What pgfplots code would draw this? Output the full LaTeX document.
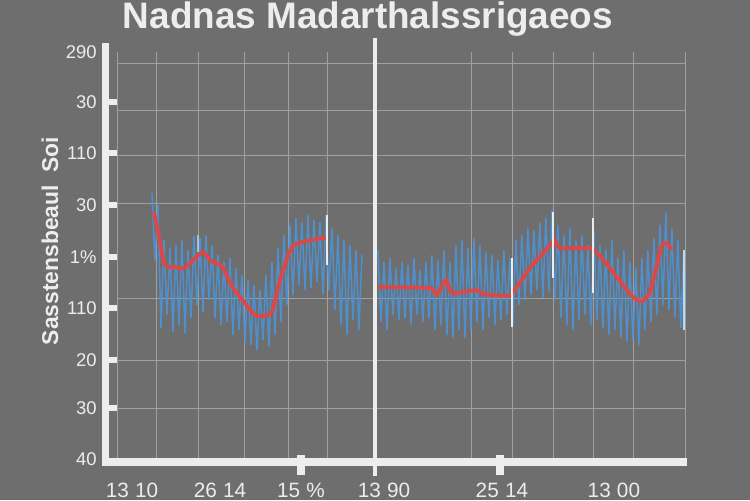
\documentclass[border=0pt]{standalone}
\usepackage{fontspec}
\setmainfont{Liberation Sans}
\usepackage{pgfplots}
\pgfplotsset{compat=1.18}
\definecolor{bg}{HTML}{6E6E6E}
\definecolor{gridc}{HTML}{A0A0A0}
\definecolor{wht}{HTML}{EDEDED}
\definecolor{sig}{HTML}{4A94DA}
\definecolor{trend}{HTML}{DC4848}
\definecolor{pale}{HTML}{B4DCF4}

\begin{document}
\begin{tikzpicture}[x=0.02cm,y=0.02cm]
\useasboundingbox (0,0) rectangle (750,500);
\clip (0,0) rectangle (750,500);
\fill[bg] (0,0) rectangle (750,500);
% grid (pixel units, y measured upwards)
\foreach \gx in {117,156,198,244,288,327,471,512,553,593,633,685}
  \draw[gridc, line width=0.55pt] (\gx,37) -- (\gx,448);
\foreach \gy in {437,390,345,297,202,140,92}
  \draw[gridc, line width=0.55pt] (117,\gy) -- (685,\gy);
\node[wht, font=\bfseries\fontsize{21}{23}\selectfont, anchor=base] at (368,471) {Nadnas Madarthalssrigaeos};
\node[wht, font=\bfseries\fontsize{13}{15}\selectfont, rotate=90] at (50,259) {Sasstensbeaul\ \ Soi};

\begin{axis}[
    at={(105,37)}, anchor=south west, scale only axis,
    width=11.66cm, height=8.4cm,
    xmin=105, xmax=688, ymin=37, ymax=457,
    axis line style={draw=none},
    major tick length=0pt,
    clip=false,
    /pgf/number format/assume math mode=true,
    xtick={132,220,301,384,502,614},
    xticklabels={13\hspace{0.3em}10, 26\hspace{0.3em}14, 15\hspace{0.3em}\%, 13\hspace{0.3em}90, 25\hspace{0.3em}14, 13\hspace{0.3em}00},
    ytick={447.5,398,347,295,243,192,140,92,41},
    yticklabels={290,30,110,30,1\%,110,20,30,40},
    xticklabel style={font=\fontsize{11.8}{13}\selectfont, text=wht, inner sep=0pt, anchor=north, yshift=-0.4cm},
    yticklabel style={font=\fontsize{10.5}{12}\selectfont, text=wht, inner sep=0pt, anchor=east, xshift=-0.16cm},
  ]
  % noisy signal, left part
  \addplot[sig, line width=0.85pt, opacity=0.9] coordinates {
      (152,307) (155,240) (158,295) (161,172) (164,260) (167,185) (170,252) (173,168)
      (176,255) (179,175) (182,260) (185,167) (188,250) (191,182) (194,264) (197,195)
      (200,262) (203,188) (206,265) (209,200) (212,255) (215,182) (218,245) (221,175)
      (224,238) (227,178) (230,242) (233,165) (236,232) (239,170) (242,225) (245,158)
      (248,220) (251,155) (254,215) (257,150) (260,210) (263,160) (266,225) (269,153)
      (272,238) (275,165) (278,252) (281,178) (284,265) (287,195) (290,275) (293,205)
      (296,282) (299,215) (302,278) (305,210) (308,285) (311,212) (314,280) (317,218)
      (320,278) (323,205) (326,285) (329,210) (332,272) (335,190) (338,265) (341,175)
      (344,260) (347,165) (350,255) (353,180) (356,250) (359,170) (362,245)
    };
  % noisy signal, right part
  \addplot[sig, line width=0.85pt, opacity=0.9] coordinates {
      (378,250) (381,178) (384,238) (387,170) (390,242) (393,185) (396,232) (399,180)
      (402,238) (405,182) (408,235) (411,175) (414,242) (417,185) (420,230) (423,178)
      (426,238) (429,182) (432,245) (435,170) (438,240) (441,175) (444,250) (447,165)
      (450,238) (453,162) (456,255) (459,170) (462,260) (465,162) (468,252) (471,170)
      (474,262) (477,178) (480,255) (483,170) (486,248) (489,182) (492,245) (495,175)
      (498,240) (501,180) (504,250) (507,185) (510,242) (513,175) (516,260) (519,195)
      (522,265) (525,200) (528,272) (531,205) (534,270) (537,210) (540,278) (543,202)
      (546,282) (549,208) (552,290) (555,200) (558,275) (561,182) (564,265) (567,175)
      (570,272) (573,170) (576,260) (579,180) (582,265) (585,185) (588,255) (591,175)
      (594,270) (597,180) (600,255) (603,172) (606,250) (609,165) (612,260) (615,170)
      (618,242) (621,162) (624,250) (627,158) (630,238) (633,160) (636,232) (639,155)
      (642,242) (645,170) (648,250) (651,178) (654,262) (657,185) (660,275) (663,195)
      (666,288) (669,190) (672,272) (675,182) (678,260) (681,172) (684,250)
    };
  % trend, left part
  \addplot[trend, line width=2.2pt, smooth, tension=0.4] coordinates {
      (154,288) (160,258) (165,235) (175,233) (185,232) (195,242) (203,248)
      (210,240) (215,237) (222,234) (232,214) (244,198) (255,185) (262,184)
      (272,188) (280,220) (292,253) (307,259) (317,261) (327,263)
    };
  % trend, right part
  \addplot[trend, line width=2.2pt, smooth, tension=0.3] coordinates {
      (378,213) (430,212) (437,205) (446,220) (452,207) (477,210) (483,206)
      (510,205) (530,232) (552,257) (555,260) (560,252) (593,251) (613,228)
      (633,203) (642,199) (650,207) (657,235) (662,255) (667,257) (672,250)
    };
\end{axis}

% spines, ticks and highlight bars
\draw[wht, line width=4.3pt] (105.5,36) -- (105.5,457);
\draw[wht, line width=4.3pt] (102,38) -- (687,38);
\foreach \ty in {398,347,295,243,192,140,92}
  \draw[wht, line width=3pt] (107,\ty) -- (117,\ty);
\draw[wht, line width=4pt] (301,45) -- (301,25);
\draw[wht, line width=4pt] (500,45) -- (500,25);
\draw[wht, line width=2.3pt] (375,462) -- (375,24);
\draw[wht, line width=1.6pt] (327,285) -- (327,235);
\draw[wht, line width=1.6pt] (512,242) -- (512,173);
\draw[wht, line width=1.6pt] (553,288) -- (553,222);
\draw[wht, line width=1.6pt] (593,282) -- (593,207);
\draw[pale, line width=1.6pt] (684,250) -- (684,170);
\draw[pale, line width=1.2pt, opacity=0.7] (198,265) -- (198,248);
\end{tikzpicture}
\end{document}
